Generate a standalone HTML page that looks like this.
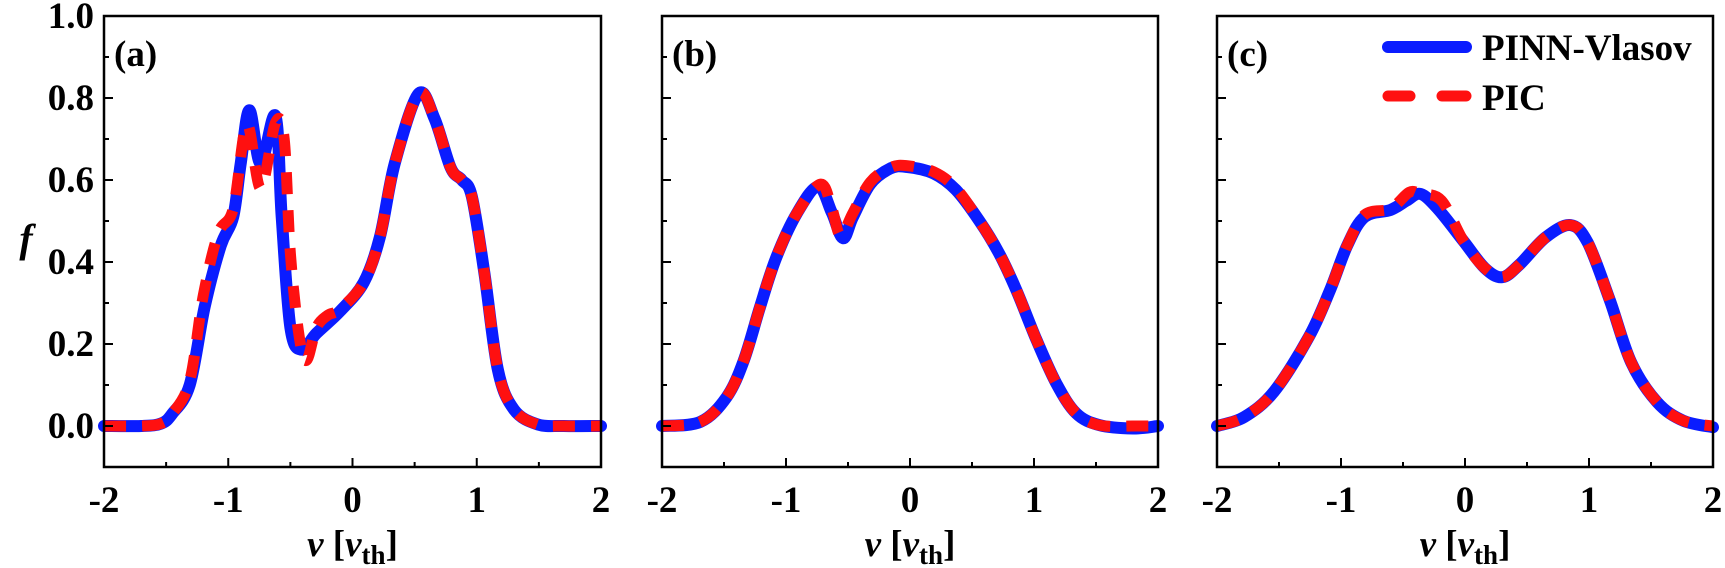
<!DOCTYPE html>
<html><head><meta charset="utf-8"><style>
html,body{margin:0;padding:0;background:#fff;}
svg{display:block;}
text{font-family:"Liberation Serif","Times New Roman","Noto Serif CJK SC","DejaVu Serif",serif;font-weight:bold;fill:#000;}
</style></head><body>
<svg id="s" width="1725" height="568" viewBox="0 0 1725 568" xmlns="http://www.w3.org/2000/svg"></svg>
<script>
const S=document.getElementById('s');
const NS='http://www.w3.org/2000/svg';
function el(t,a,txt){const e=document.createElementNS(NS,t);for(const k in a)e.setAttribute(k,a[k]);if(txt!==undefined)e.textContent=txt;S.appendChild(e);return e;}
const panels=[{x0:104,x1:601,lab:'(a)'},{x0:662,x1:1158,lab:'(b)'},{x0:1217,x1:1713,lab:'(c)'}];
const Y0=426,YT=16,YB=467;
function fy(f){return Y0-f*410;}
const A_b=[[-2,0],[-1.7,0],[-1.54,0.006],[-1.45,0.03],[-1.31,0.10],[-1.19,0.29],[-1.06,0.44],[-0.96,0.51],[-0.90,0.64],[-0.83,0.77],[-0.74,0.64],[-0.62,0.756],[-0.57,0.51],[-0.50,0.24],[-0.41,0.186],[-0.29,0.226],[-0.10,0.28],[0.09,0.35],[0.22,0.46],[0.34,0.64],[0.53,0.81],[0.66,0.75],[0.79,0.63],[0.88,0.60],[0.96,0.56],[1.06,0.376],[1.17,0.137],[1.30,0.04],[1.49,0.004],[1.7,0],[2,0]];
const A_r=[[-2,0],[-1.7,0],[-1.54,0.006],[-1.45,0.03],[-1.31,0.11],[-1.2,0.32],[-1.08,0.47],[-0.96,0.53],[-0.85,0.735],[-0.74,0.58],[-0.62,0.74],[-0.55,0.70],[-0.5,0.42],[-0.43,0.22],[-0.37,0.16],[-0.29,0.24],[-0.2,0.27],[-0.10,0.285],[0.09,0.35],[0.22,0.46],[0.34,0.64],[0.53,0.81],[0.66,0.75],[0.79,0.63],[0.88,0.60],[0.96,0.56],[1.06,0.376],[1.17,0.137],[1.30,0.04],[1.49,0.004],[1.7,0],[2,0]];
const B_b=[[-2,0],[-1.69,0.01],[-1.48,0.07],[-1.34,0.16],[-1.21,0.29],[-1.08,0.41],[-0.91,0.52],[-0.74,0.584],[-0.63,0.52],[-0.54,0.458],[-0.46,0.51],[-0.32,0.59],[-0.16,0.628],[-0.03,0.632],[0.19,0.616],[0.37,0.576],[0.56,0.50],[0.72,0.42],[0.86,0.33],[1.02,0.21],[1.18,0.104],[1.34,0.031],[1.53,0.002],[1.80,-0.006],[2,0]];
const B_r=[[-2,0],[-1.69,0.01],[-1.48,0.07],[-1.34,0.16],[-1.21,0.29],[-1.08,0.41],[-0.91,0.52],[-0.72,0.59],[-0.63,0.53],[-0.56,0.465],[-0.46,0.52],[-0.32,0.595],[-0.16,0.63],[-0.03,0.635],[0.19,0.62],[0.37,0.58],[0.56,0.50],[0.72,0.42],[0.86,0.33],[1.02,0.21],[1.18,0.104],[1.34,0.031],[1.53,0.002],[1.80,0],[2,0]];
const C_b=[[-2,0],[-1.78,0.022],[-1.54,0.084],[-1.26,0.217],[-1.09,0.33],[-0.95,0.44],[-0.81,0.51],[-0.60,0.527],[-0.47,0.55],[-0.36,0.566],[-0.22,0.53],[-0.01,0.45],[0.16,0.385],[0.30,0.363],[0.44,0.394],[0.65,0.46],[0.85,0.49],[0.99,0.447],[1.17,0.305],[1.34,0.155],[1.55,0.058],[1.76,0.013],[2,-0.003]];
const C_r=[[-2,0],[-1.78,0.022],[-1.54,0.084],[-1.26,0.217],[-1.09,0.33],[-0.95,0.44],[-0.81,0.515],[-0.60,0.53],[-0.45,0.57],[-0.36,0.566],[-0.19,0.55],[-0.01,0.45],[0.16,0.385],[0.30,0.363],[0.44,0.394],[0.65,0.46],[0.85,0.49],[0.99,0.447],[1.17,0.305],[1.34,0.155],[1.55,0.058],[1.76,0.013],[2,0]];
const data=[[A_b,A_r],[B_b,B_r],[C_b,C_r]];
function path(pts,p){const sx=(p.x1-p.x0)/4;const P=pts.map(q=>[p.x0+(q[0]+2)*sx,fy(q[1])]);
 let d='M'+P[0][0].toFixed(1)+' '+P[0][1].toFixed(1);
 for(let i=0;i<P.length-1;i++){const p0=P[Math.max(0,i-1)],p1=P[i],p2=P[i+1],p3=P[Math.min(P.length-1,i+2)];
  const c1=[p1[0]+(p2[0]-p0[0])/6,p1[1]+(p2[1]-p0[1])/6],c2=[p2[0]-(p3[0]-p1[0])/6,p2[1]-(p3[1]-p1[1])/6];
  d+=' C'+c1.map(v=>v.toFixed(1)).join(' ')+' '+c2.map(v=>v.toFixed(1)).join(' ')+' '+p2.map(v=>v.toFixed(1)).join(' ');}
 return d;}
panels.forEach((p,i)=>{
 const sx=(p.x1-p.x0)/4;
 el('path',{d:path(data[i][0],p),fill:'none',stroke:'#0a1cff','stroke-width':12,'stroke-linejoin':'round','stroke-linecap':'round'});
 el('path',{d:path(data[i][1],p),fill:'none',stroke:'#ff1010','stroke-width':11,'stroke-dasharray':'22 16'});
 el('rect',{x:p.x0,y:YT,width:p.x1-p.x0,height:YB-YT,fill:'none',stroke:'#000','stroke-width':2.5});
 for(let k=1;k<8;k++){const x=p.x0+k*sx/2;el('line',{x1:x,y1:YB,x2:x,y2:YB-(k%2==0?9:5),stroke:'#000','stroke-width':2});}
 for(let k=0;k<10;k++){const y=fy(k/10);el('line',{x1:p.x0,y1:y,x2:p.x0+(k%2==0?9:5),y2:y,stroke:'#000','stroke-width':2});}
 ['-2','-1','0','1','2'].forEach((t,k)=>{el('text',{x:p.x0+k*sx,y:512,'font-size':37,'text-anchor':'middle'},t);});
 const tx=el('text',{x:(p.x0+p.x1)/2,y:556,'font-size':37,'text-anchor':'middle'});
 tx.innerHTML='<tspan font-style="italic">v</tspan> [<tspan font-style="italic">v</tspan><tspan font-size="27" dy="8">th</tspan><tspan dy="-8">]</tspan>';
 el('text',{x:p.x0+10,y:66,'font-size':37},p.lab);
});
['0.0','0.2','0.4','0.6','0.8','1.0'].forEach((t,k)=>{el('text',{x:94,y:fy(k*0.2)+12,'font-size':37,'text-anchor':'end'},t);});
el('text',{x:26,y:252,'font-size':40,'font-style':'italic','text-anchor':'middle'},'f');
el('line',{x1:1388,y1:47,x2:1466,y2:47,stroke:'#0a1cff','stroke-width':12,'stroke-linecap':'round'});
el('line',{x1:1388,y1:96,x2:1410,y2:96,stroke:'#ff1010','stroke-width':11,'stroke-linecap':'round'});
el('line',{x1:1442,y1:96,x2:1466,y2:96,stroke:'#ff1010','stroke-width':11,'stroke-linecap':'round'});
el('text',{x:1482,y:60,'font-size':37},'PINN-Vlasov');
el('text',{x:1482,y:110,'font-size':37},'PIC');
</script>
</body></html>
